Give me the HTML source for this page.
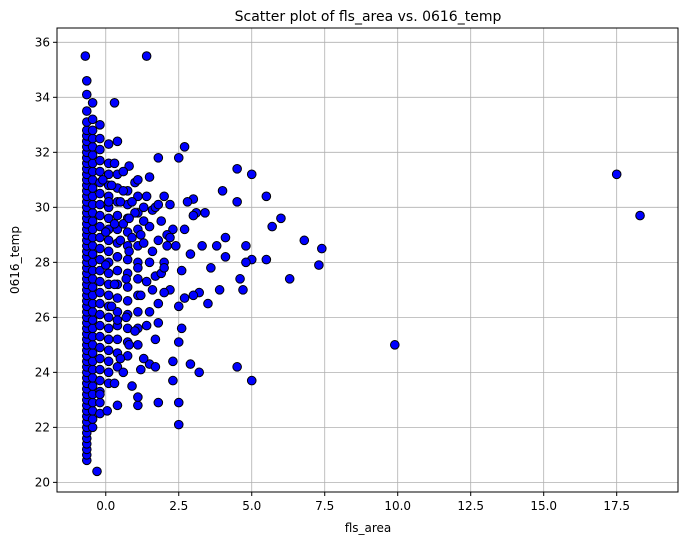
<!DOCTYPE html>
<html><head><meta charset="utf-8"><style>
body{margin:0;background:#fff;font-family:"Liberation Sans","DejaVu Sans",sans-serif}
svg text{font-family:"DejaVu Sans","Liberation Sans",sans-serif;fill:#000}
</style></head><body>
<svg id="chart" width="688" height="546" xmlns="http://www.w3.org/2000/svg">
<text x="368" y="21" font-size="14" text-anchor="middle">Scatter plot of fls_area vs. 0616_temp</text>
<g id="grid"></g>
<g id="pts"></g>
<rect x="57" y="28" width="621" height="464" fill="none" stroke="#000" stroke-width="1"/>
<g id="ticks"></g>
<text x="368" y="532" font-size="12" text-anchor="middle">fls_area</text>
<text transform="translate(19,260) rotate(-90)" font-size="12" text-anchor="middle">0616_temp</text>
</svg>
<script>
const xTicks=[0,2.5,5,7.5,10,12.5,15,17.5];
const xTickLabels=["0.0","2.5","5.0","7.5","10.0","12.5","15.0","17.5"];
const yTicks=[20,22,24,26,28,30,32,34,36];
const colA=[20.8,21.0,21.2,21.4,21.6,21.8,22.0,22.2,22.4,22.6,22.8,23.0,23.2,23.4,23.6,23.8,24.0,24.2,24.4,24.6,24.8,25.0,25.2,25.4,25.6,25.8,26.0,26.2,26.4,26.6,26.8,27.0,27.2,27.4,27.6,27.8,28.0,28.2,28.4,28.6,28.8,29.0,29.2,29.4,29.6,29.8,30.0,30.2,30.4,30.6,30.8,31.0,31.2,31.4,31.6,31.8,32.0,32.2,32.4,32.6,32.8,33.1,33.5,34.1,34.6];
const colB=[22.0,22.3,22.6,22.9,23.2,23.5,23.8,24.1,24.4,24.7,25.0,25.3,25.6,25.9,26.2,26.5,26.8,27.1,27.4,27.7,28.0,28.3,28.6,28.9,29.2,29.5,29.8,30.1,30.4,30.7,31.0,31.3,31.6,31.9,32.2,32.5,32.8,33.2,33.8];
const colC=[22.5,22.9,23.3,23.7,24.1,24.5,24.9,25.3,25.7,26.1,26.5,26.9,27.3,27.7,28.1,28.5,28.9,29.3,29.7,30.1,30.5,30.9,31.3,31.7,32.1,32.5,33.0];
const colD=[23.6,24.0,24.4,24.8,25.2,25.6,26.0,26.4,26.8,27.2,27.6,28.0,28.4,28.8,29.2,29.6,30.0,30.4,30.8,31.2,31.6];
const colE=[24.2,24.7,25.2,25.7,26.2,26.7,27.2,27.7,28.2,28.7,29.2,29.7,30.2,30.7,31.2];
const colF=[24.6,25.1,25.6,26.1,26.6,27.1,27.6,28.1,28.6,29.1,29.6,30.1,30.6];
const colG=[25.0,25.6,26.2,26.8,27.4,28.0,28.6,29.2,29.8,30.4];
const xs=[-0.7,1.4,0.3,-0.3,2.7,1.8,2.5,4.5,5.0,5.5,6.0,4.0,4.5,5.7,6.8,7.4,7.3,6.3,5.5,4.8,5.0,4.7,4.6,4.1,4.1,3.9,3.6,3.5,3.2,3.0,2.9,3.2,2.6,2.5,2.5,2.5,4.5,5.0,9.9,17.5,18.3,1.8,1.1,1.1,0.4,0.05,-0.2,1.7,1.8,2.3,2.3,1.5,1.7,2.9,3.1,3.4,3.0,2.8,2.2,2.0,1.5,0.8,0.6,0.4,0.1,4.8,3.3,3.8,2.6,2.2,2.0,1.8,2.5,2.7,2.1,2.4,2.7,3.0,1.9,1.6,1.4,1.0,1.2,1.5,1.7,1.2,1.0,0.8,1.3,0.6,0.9,0.3,0.5,0.7,1.5,1.1,0.9,0.6,0.5,0.2,0.3,0.1,0.2,0.4,0.7,0.8,1.3,1.0,1.8,2.3,2.0,1.6,1.4,1.2,0.4,0.0,0.0,0.1,-0.1,0.3,0.6,0.9,1.1,1.3,0.8,0.5,0.3,1.6,1.9,2.1,1.7,1.4,2.0,1.5,1.8,2.2,1.3];
const ys=[35.5,35.5,33.8,20.4,32.2,31.8,31.8,31.4,31.2,30.4,29.6,30.6,30.2,29.3,28.8,28.5,27.9,27.4,28.1,28.6,28.1,27.0,27.4,28.9,28.2,27.0,27.8,26.5,26.9,26.8,24.3,24.0,25.6,25.1,22.1,22.9,24.2,23.7,25.0,31.2,29.7,22.9,22.8,23.1,22.8,22.6,23.2,25.2,25.8,23.7,24.4,24.3,24.2,28.3,29.8,29.8,30.3,30.2,30.1,30.4,31.1,31.5,31.3,32.4,32.3,28.0,28.6,28.6,27.7,27.0,26.9,26.5,26.4,26.7,28.6,28.6,29.2,29.7,29.5,29.9,30.4,30.9,29.0,28.0,27.5,26.8,25.5,25.0,24.5,24.0,23.5,23.6,24.5,26.0,26.2,27.8,28.9,29.4,30.2,30.8,27.2,25.2,26.4,28.2,27.4,28.4,28.7,29.8,28.8,29.2,28.0,27.0,25.7,24.1,25.9,27.9,29.1,30.2,31.0,31.6,30.6,30.2,31.0,30.0,29.6,28.8,29.4,28.4,27.6,29.0,30.0,27.3,27.8,29.3,30.1,28.9,29.5];
const X0=57,X1=678,Y0=492,Y1=28,xmin=-1.67,xmax=19.6,ymin=19.65,ymax=36.52;
const sx=v=>X0+(v-xmin)/(xmax-xmin)*(X1-X0);
const sy=v=>Y0-(v-ymin)/(ymax-ymin)*(Y0-Y1);
const NS="http://www.w3.org/2000/svg";
const grid=document.getElementById('grid'),ticks=document.getElementById('ticks'),pts=document.getElementById('pts');
function mk(tag,at,p){const e=document.createElementNS(NS,tag);for(const k in at)e.setAttribute(k,at[k]);p.appendChild(e);return e;}
xTicks.forEach((t,i)=>{const x=sx(t);
 const g=mk('line',{x1:x,x2:x,y1:Y1,y2:Y0,stroke:'#b0b0b0','stroke-width':0.8},grid);
 
 mk('line',{x1:x,x2:x,y1:Y0,y2:Y0+4,stroke:'#000'},ticks);
 const tx=mk('text',{x:x,y:Y0+18,'font-size':12,'text-anchor':'middle'},ticks);tx.textContent=xTickLabels[i];
 });
yTicks.forEach(t=>{const y=sy(t);
 const g=mk('line',{x1:X0,x2:X1,y1:y,y2:y,stroke:'#b0b0b0','stroke-width':0.8},grid);
 
 mk('line',{x1:X0-4,x2:X0,y1:y,y2:y,stroke:'#000'},ticks);
 const tx=mk('text',{x:X0-7,y:y+4,'font-size':12,'text-anchor':'end'},ticks);tx.textContent=String(t);
 });
function dot(x,y){const c=mk('circle',{cx:sx(x),cy:sy(y),r:4.3,fill:'#0000ff',stroke:'#000','stroke-width':1},pts);
 }
colA.forEach(y=>dot(-0.65,y));
colB.forEach(y=>dot(-0.45,y));
colC.forEach(y=>dot(-0.2,y));
colD.forEach(y=>dot(0.1,y));
colE.forEach(y=>dot(0.4,y));
colF.forEach(y=>dot(0.75,y));
colG.forEach(y=>dot(1.1,y));
xs.forEach((x,i)=>dot(x,ys[i]));
</script>
</body></html>
